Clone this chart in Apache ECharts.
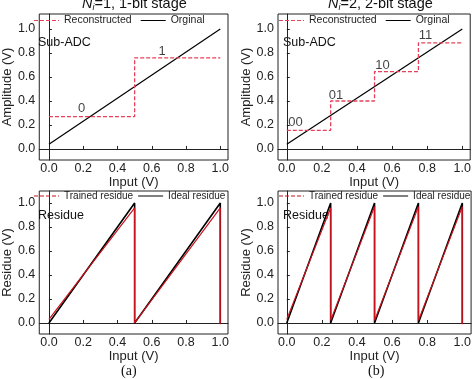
<!DOCTYPE html>
<html><head><meta charset="utf-8">
<script src="https://cdn.jsdelivr.net/npm/echarts@6/dist/echarts.min.js"></script>
<style>html,body{margin:0;padding:0;background:#fff}#c{width:474px;height:379px}</style>
</head><body><div id="c"></div>
<script>
// ---- data ----
const tickValues = [0, 0.2, 0.4, 0.6, 0.8, 1.0];
const origX = [0, 1.0];
const origY = [0.04, 1.0];
const recon1X = [0, 0.5, 0.5, 1.0];
const recon1Y = [0.27, 0.27, 0.76, 0.76];
const recon2X = [0, 0.25, 0.25, 0.5, 0.5, 0.75, 0.75, 1.0];
const recon2Y = [0.155, 0.155, 0.40, 0.40, 0.645, 0.645, 0.885, 0.885];
const codes1 = ['0', '1'];
const codes1X = [0.19, 0.66];
const codes1Y = [0.34, 0.81];
const codes2 = ['00', '01', '10', '11'];
const codes2X = [0.05, 0.28, 0.545, 0.79];
const codes2Y = [0.22, 0.45, 0.70, 0.95];
const ideal1X = [0, 0.5, 0.5, 1.0, 1.0];
const ideal1Y = [0, 1.0, 0, 1.0, 0];
const trained1X = [0, 0.5, 0.5, 1.0, 1.0];
const trained1Y = [0.03, 0.96, 0.0, 0.96, -0.01];
const ideal2X = [0, 0.25, 0.25, 0.5, 0.5, 0.75, 0.75, 1.0, 1.0];
const ideal2Y = [0, 1.0, 0, 1.0, 0, 1.0, 0, 1.0, 0];
const trained2X = [0, 0.25, 0.25, 0.5, 0.5, 0.75, 0.75, 1.0, 1.0];
const trained2Y = [0.03, 0.96, 0.02, 0.97, 0.02, 0.97, 0.02, 0.97, -0.01];

const zip = (xs, ys) => xs.map((x, i) => [x, ys[i]]);
const FONT = 'Liberation Sans, Arial, sans-serif';
const AX = '#222';
const RED_TOP = '#e8405a';
const RED_BOT = '#c8141e';
const SOLID_ICON = 'path://M0,0H25V1H0Z';
const DASH_ICON = 'path://M0,0H4V1H0ZM6,0H10V1H6ZM12,0H16V1H12ZM18,0H22V1H18ZM24,0H25V1H24Z';

function xAxis(gi, min, max) {
  return {
    type: 'value', gridIndex: gi, min: min, max: max,
    name: 'Input (V)', nameLocation: 'middle', nameGap: 14,
    nameTextStyle: { fontFamily: FONT, fontSize: 13, color: AX },
    axisLine: { show: true, lineStyle: { color: AX, width: 1 } },
    axisTick: { show: true, inside: true, length: 3, customValues: tickValues, lineStyle: { color: AX } },
    axisLabel: { customValues: tickValues, margin: 2, fontFamily: FONT, fontSize: 12.5, color: AX,
      formatter: v => v.toFixed(1) },
    splitLine: { show: false }
  };
}
function yAxis(gi, name, min, max) {
  return {
    type: 'value', gridIndex: gi, min: min, max: max,
    name: name, nameLocation: 'middle', nameGap: 19, nameRotate: 90,
    nameTextStyle: { fontFamily: FONT, fontSize: 13, color: AX },
    axisLine: { show: true, lineStyle: { color: AX, width: 1 } },
    axisTick: { show: true, inside: true, length: 3, customValues: tickValues, lineStyle: { color: AX } },
    axisLabel: { customValues: tickValues, margin: 4, fontFamily: FONT, fontSize: 12.5, color: AX,
      formatter: v => v.toFixed(1) },
    splitLine: { show: false }
  };
}
function legend(left, top, gap, size, items) {
  return {
    left: left, top: top, itemWidth: 25, itemHeight: 1.4, itemGap: gap, padding: 0,
    width: 260,
    textStyle: { fontFamily: FONT, fontSize: size, color: '#222' },
    data: items
  };
}
function lineSeries(name, xi, data, color, type, width, z) {
  return { name: name, type: 'line', xAxisIndex: xi, yAxisIndex: xi, data: data,
    showSymbol: false, symbol: 'none', animation: false, z: z,
    lineStyle: { color: color, type: type, width: width }, itemStyle: { color: color } };
}
function codeSeries(xi, labels, xs, ys) {
  return { type: 'scatter', xAxisIndex: xi, yAxisIndex: xi, symbolSize: 0, silent: true,
    data: labels.map((l, i) => ({ value: [xs[i], ys[i]], name: l })),
    label: { show: true, position: 'inside', formatter: p => p.name, fontFamily: FONT, fontSize: 13, color: '#111' } };
}
function titleText(left, rest) {
  return { type: 'text', left: left, top: -4, style: { text: '{n|N}{s|i}{t|' + rest + '}', rich: {
    n: { fontFamily: FONT, fontSize: 14.5, fontStyle: 'italic', fill: '#111' },
    s: { fontFamily: FONT, fontSize: 9, fontStyle: 'italic', fill: '#111', verticalAlign: 'bottom', padding: [8, 0, 0, 0] },
    t: { fontFamily: FONT, fontSize: 14.5, fill: '#111' } } } };
}
function note(left, top, text, family, size) {
  return { type: 'text', left: left, top: top, style: { text: text, fontFamily: family || FONT, fontSize: size || 12.5, fill: '#111' } };
}

const topItems = [{ name: 'Reconstructed', icon: DASH_ICON }, { name: 'Orginal', icon: SOLID_ICON }];
const botItems = [{ name: 'Trained residue', icon: DASH_ICON }, { name: 'Ideal residue', icon: SOLID_ICON }];

const option = {
  animation: false,
  grid: [
    { left: 33, top: 14, width: 195, height: 146, show: true, borderColor: AX, borderWidth: 1 },
    { left: 278, top: 14, width: 195, height: 146, show: true, borderColor: AX, borderWidth: 1 },
    { left: 33, top: 191, width: 195, height: 143, show: true, borderColor: AX, borderWidth: 1 },
    { left: 278, top: 191, width: 195, height: 143, show: true, borderColor: AX, borderWidth: 1 }
  ],
  xAxis: [ xAxis(0, -0.0565, 1.045), xAxis(1, -0.05, 1.045), xAxis(2, -0.0565, 1.045), xAxis(3, -0.05, 1.05) ],
  yAxis: [ yAxis(0, 'Amplitude (V)', -0.092, 1.125), yAxis(1, 'Amplitude (V)', -0.092, 1.125),
           yAxis(2, 'Residue (V)', -0.092, 1.1), yAxis(3, 'Residue (V)', -0.092, 1.1) ],
  legend: [
    legend(34, 15, 9, 10.5, topItems),
    legend(279, 15, 9, 10.5, topItems),
    legend(34, 191, 5, 10, botItems),
    legend(279, 191, 5, 10, botItems)
  ],
  series: [
    lineSeries('Orginal', 0, zip(origX, origY), '#000', 'solid', 1.2, 2),
    lineSeries('Reconstructed', 0, zip(recon1X, recon1Y), RED_TOP, [4, 2], 1.3, 3),
    codeSeries(0, codes1, codes1X, codes1Y),
    lineSeries('Orginal', 1, zip(origX, origY), '#000', 'solid', 1.2, 2),
    lineSeries('Reconstructed', 1, zip(recon2X, recon2Y), RED_TOP, [4, 2], 1.3, 3),
    codeSeries(1, codes2, codes2X, codes2Y),
    lineSeries('Ideal residue', 2, zip(ideal1X, ideal1Y), '#000', 'solid', 1.6, 2),
    lineSeries('Trained residue', 2, zip(trained1X, trained1Y), RED_BOT, 'solid', 1.2, 3),
    lineSeries('Ideal residue', 3, zip(ideal2X, ideal2Y), '#000', 'solid', 1.6, 2),
    lineSeries('Trained residue', 3, zip(trained2X, trained2Y), RED_BOT, 'solid', 1.2, 3)
  ],
  graphic: [
    titleText(82, '=1, 1-bit stage'),
    titleText(328, '=2, 2-bit stage'),
    note(38, 36, 'Sub-ADC'),
    note(283, 36, 'Sub-ADC'),
    note(38, 209, 'Residue'),
    note(283, 209, 'Residue'),
    note(121, 364, '(a)', 'Liberation Serif', 14),
    note(368, 364, '(b)', 'Liberation Serif', 14)
  ]
};
echarts.init(document.getElementById('c'), null, { renderer: 'canvas' }).setOption(option);
</script></body></html>
